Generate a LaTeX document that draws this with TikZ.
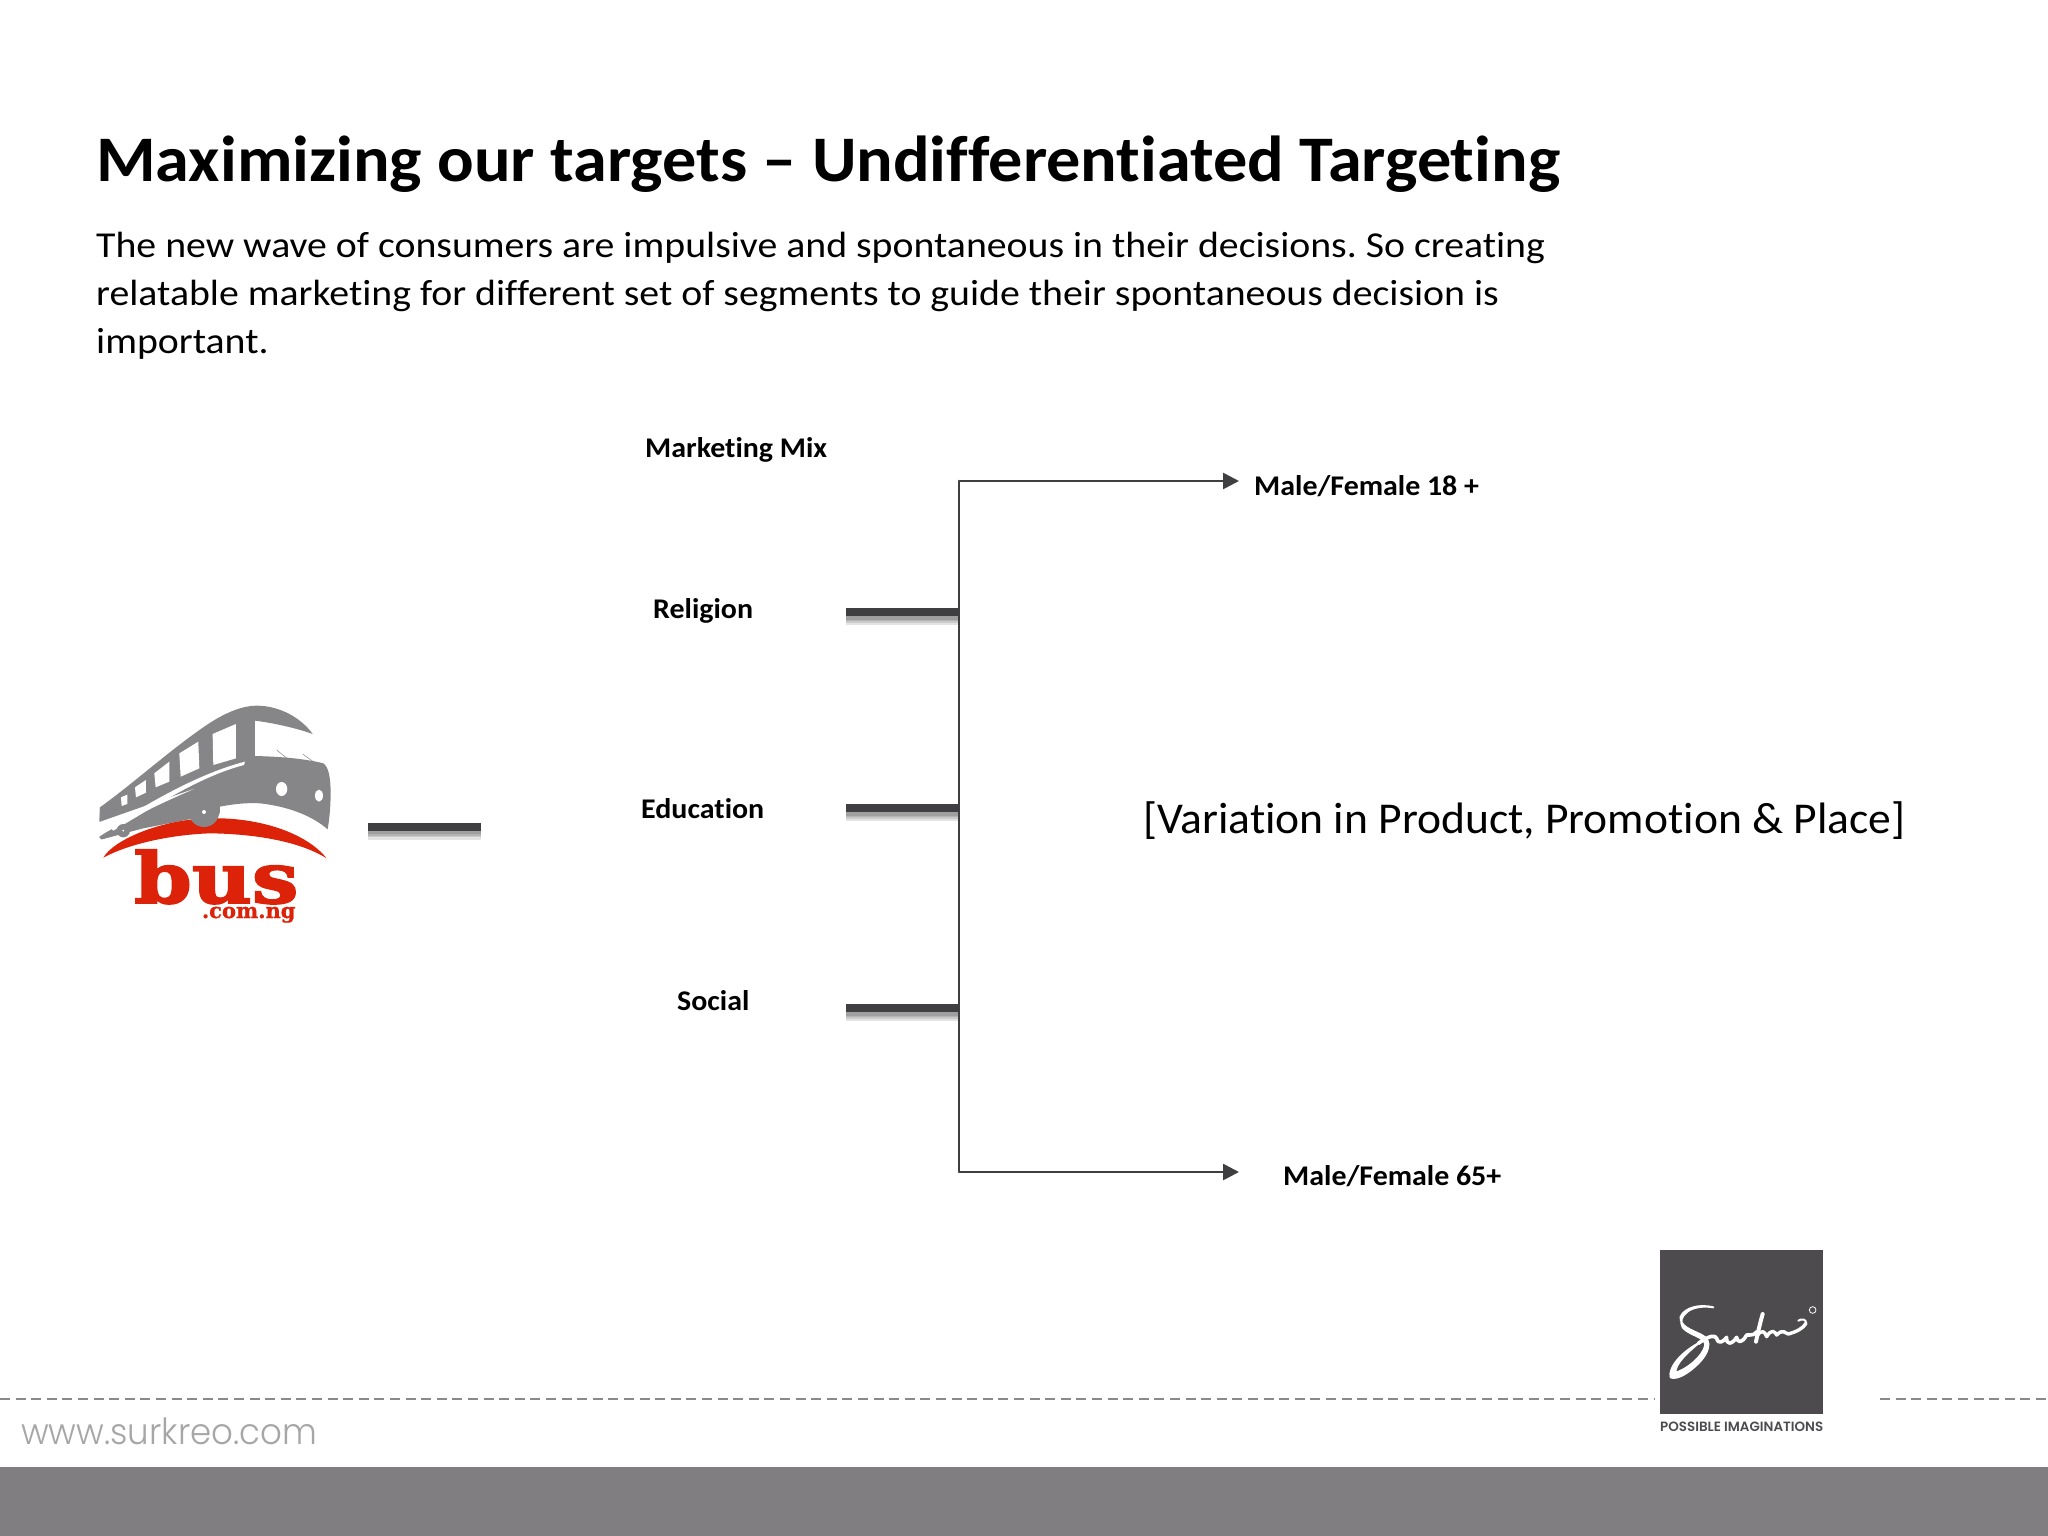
\documentclass[tikz,border=0pt]{standalone}
\usepackage{fontspec}
\setmainfont{Carlito}[Ligatures={TeX,NoCommon}]
\newfontfamily\geo[UprightFont=* Light]{Poppins}
\newfontfamily\geomed[UprightFont=* SemiBold]{Poppins}
\newfontfamily\slab[BoldFont=* Bold]{DejaVu Serif}
\usetikzlibrary{arrows.meta}
\definecolor{ink}{HTML}{000000}
\definecolor{linec}{HTML}{3F3E40}
\definecolor{band}{HTML}{807E81}
\definecolor{dashc}{HTML}{8A888B}
\definecolor{busgray}{HTML}{868688}
\definecolor{busred}{HTML}{DC2208}
\definecolor{logosq}{HTML}{4D4B4E}
\newcommand{\fs}[1]{\fontsize{#1pt}{#1pt}\selectfont}
\newcommand{\st}[1]{\addfontfeature{FakeStretch=#1}}
\frenchspacing
\tikzset{
  lab/.style={font=\fs{28.5}\bfseries\st{1.05},text=ink,inner sep=0pt,anchor=base west},
  para/.style={font=\fs{36.5}\st{1.09},text=ink,inner sep=0pt,anchor=base west},
  stub/.style={line width=8pt,draw=linec},
  stubshade/.style={draw=black,opacity=.11},
  trunk/.style={line width=2.6pt,draw=linec},
  tipline/.style={line width=2.6pt,draw=linec,-{Triangle[length=16pt,width=16pt]}},
  foot/.style={line width=2pt,draw=dashc,dash pattern=on 10pt off 5.6pt},
  win/.style={fill=white,draw=none},
  sig/.style={draw=white,line cap=round,line join=round}
}
\begin{document}
\begin{tikzpicture}[x=1pt,y=-1pt]
\useasboundingbox (0,0) rectangle (2048,1536);
\fill[white] (0,0) rectangle (2048,1536);

% Heading
\node[inner sep=0pt,anchor=base west,font=\fs{65}\bfseries\st{1.05},text=ink] (title) at (96,181) {Maximizing our targets – Undifferentiated Targeting};
\node[para] (l1) at (96,257) {The new wave of consumers are impulsive and spontaneous in their decisions. So creating};
\node[para] (l2) at (96,305) {relatable marketing for different set of segments to guide their spontaneous decision is};
\node[para] (l3) at (96,353) {important.};

% Labels
\node[lab] (mm) at (645,457) {Marketing Mix};
\node[lab] (rel) at (653,618) {Religion};
\node[lab] (edu) at (641,818) {Education};
\node[lab] (soc) at (677,1010) {Social};
\coordinate (tipA) at (1239,481);
\coordinate (tipB) at (1239,1172);
\node[lab] (mf18) at (1254,495) {Male/Female 18 +};
\node[lab] (mf65) at (1283,1185) {Male/Female 65+};
\node[inner sep=0pt,anchor=base west,font=\fs{44}\st{1.035},text=ink] (var) at (1143,833) {[Variation in Product, Promotion \& Place]};

% Connector tree
\coordinate (top) at (959,481);
\coordinate (bot) at (959,1172);
\coordinate (ra) at (846,612); \coordinate (rb) at (959,612);
\coordinate (ea) at (846,808); \coordinate (eb) at (959,808);
\coordinate (sa) at (846,1008); \coordinate (sb) at (959,1008);
\coordinate (la) at (368,826.5); \coordinate (lb) at (481,826.5);
\foreach \a/\b in {ra/rb,ea/eb,sa/sb,la/lb}{
  \draw[stubshade,line width=14pt] ([yshift=-6pt]\a) -- ([yshift=-6pt]\b);
  \draw[stubshade,line width=11pt] ([yshift=-5pt]\a) -- ([yshift=-5pt]\b);
  \draw[stubshade,line width=8pt] ([yshift=-5pt]\a) -- ([yshift=-5pt]\b);
  \draw[stubshade,line width=5pt] ([yshift=-5pt]\a) -- ([yshift=-5pt]\b);
  \draw[stub] (\a) -- (\b);
}
\draw[trunk,line cap=round] (top) -- (bot);
\draw[tipline] (top) -- (tipA);
\draw[tipline] (bot) -- (tipB);

% Bus logo
\begin{scope}[shift={(60,670)},x=0.3333pt,y=-0.3333pt]
  \fill[busgray] (120,412) .. controls (220,340) and (330,240) .. (440,165)
    .. controls (500,125) and (550,107) .. (590,107)
    .. controls (660,107) and (725,145) .. (758,192)
    .. controls (720,178) and (650,160) .. (585,152)
    -- (585,258) .. controls (660,260) and (730,265) .. (790,280)
    .. controls (805,290) and (812,320) .. (812,370)
    .. controls (812,410) and (808,450) .. (803,478)
    .. controls (760,440) and (690,410) .. (600,400)
    .. controls (520,395) and (430,420) .. (360,440)
    .. controls (280,460) and (190,490) .. (125,508)
    -- (118,500) .. controls (180,460) and (300,400) .. (420,350)
    -- (120,455) -- cycle;
  \fill[busgray] (118,503) -- (230,440) -- (480,370) -- (480,430) -- (250,475) -- (125,508) -- cycle;
  \fill[busgray] (118,455) -- (120,412) -- (300,350) -- (300,380) -- cycle;
  \fill[white] (150,472) .. controls (280,390) and (420,310) .. (555,275)
     -- (552,285) .. controls (420,320) and (300,400) .. (160,482) -- cycle;
  \fill[win] (183,382) -- (202,374) -- (202,402) -- (185,408) -- cycle;
  \fill[win] (225,352) -- (258,330) -- (258,368) -- (228,382) -- cycle;
  \fill[win] (283,310) -- (328,275) -- (328,335) -- (287,352) -- cycle;
  \fill[win] (358,250) -- (415,215) -- (418,295) -- (362,320) -- cycle;
  \fill[win] (458,192) -- (528,162) -- (528,265) -- (460,285) -- cycle;
  \fill[white] (665,357) ellipse [x radius=17,y radius=21];
  \fill[white] (777,377) ellipse [x radius=12,y radius=18];
  \draw[busgray,line width=.5pt] (650,240) -- (685,268) (728,252) -- (760,275);
  \fill[busred] (130,563) .. controls (160,510) and (300,450) .. (440,445)
    .. controls (600,440) and (740,490) .. (800,565)
    .. controls (720,515) and (590,492) .. (450,490)
    .. controls (320,495) and (200,525) .. (130,563) -- cycle;
  \fill[busgray] (432,425) circle [radius=46];
  \fill[white] (432,426) circle [radius=6];
  \fill[busgray] (190,482) circle [radius=20];
  \fill[white] (190,482) circle [radius=3];
\end{scope}
\node[inner sep=0pt,anchor=base west,text=busred,font=\fs{70}\slab\bfseries\addfontfeature{FakeStretch=1.18,FakeBold=2.5}] (busw) at (134,903)
  {bus\kern-3pt\llap{\raisebox{-15pt}{\fs{21}\addfontfeature{FakeStretch=1,FakeBold=1}.com.ng}}\kern3pt};

% Footer
\fill[band] (0,1467) rectangle (2048,1536);
\coordinate (d1) at (0,1399); \coordinate (d2) at (1655,1399);
\coordinate (d3) at (1880,1399); \coordinate (d4) at (2048,1399);
\draw[foot] (d1) -- (d2);
\draw[foot] (d3) -- (d4);
\node[inner sep=0pt,anchor=base west,font=\fs{36}\geo\st{.945},text=black!35] (web) at (21,1444) {www.surkreo.com};

% Surkreo mark
\fill[logosq] (1660,1250) rectangle (1823,1414);
\begin{scope}[shift={(1620,1220)},x=0.3333pt,y=-0.3333pt]
  \filldraw[white,line width=2pt,line join=round] (280,262) .. controls (240,252) and (195,262) .. (182,290)
    .. controls (178,320) and (215,330) .. (245,345)
    .. controls (280,362) and (265,400) .. (235,430)
    .. controls (205,460) and (170,480) .. (152,472)
    .. controls (145,445) and (180,400) .. (235,370)
    .. controls (205,395) and (165,430) .. (166,458)
    .. controls (195,452) and (250,410) .. (256,375)
    .. controls (256,350) and (205,345) .. (188,322)
    .. controls (170,290) and (210,250) .. (280,262) -- cycle;
  \draw[sig,line width=3.6pt] (235,370) .. controls (270,345) and (285,345) .. (290,355)
    .. controls (295,375) and (310,365) .. (320,352)
    .. controls (318,375) and (335,375) .. (350,352)
    .. controls (352,368) and (365,372) .. (380,345)
    .. controls (395,345) and (405,345) .. (410,335);
  \draw[sig,line width=4pt] (428,282) .. controls (420,310) and (412,345) .. (408,365);
  \draw[sig,line width=3.4pt] (410,350) .. controls (425,325) and (435,335) .. (440,350)
    .. controls (455,325) and (465,335) .. (470,345)
    .. controls (490,325) and (495,340) .. (505,342)
    .. controls (530,335) and (550,325) .. (558,310);
  \draw[sig,line width=2pt] (558,310) .. controls (560,298) and (545,295) .. (535,302);
  \draw[white,line width=.8pt] (578,270) circle [radius=10];
\end{scope}
\node[inner sep=0pt,anchor=base west,text=logosq] (tag) at (1660,1431) {\resizebox{163pt}{!}{\fs{13}\geomed POSSIBLE IMAGINATIONS}};
\end{tikzpicture}
\end{document}
